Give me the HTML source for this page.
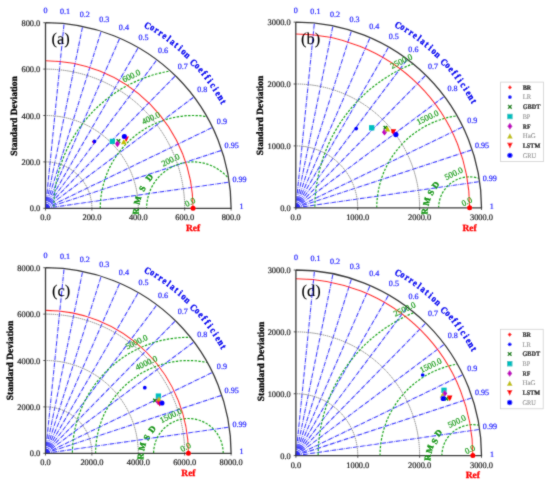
<!DOCTYPE html><html><head><meta charset="utf-8"><style>html,body{margin:0;padding:0;background:#fff;width:550px;height:481px;overflow:hidden}svg{display:block}</style></head><body>
<svg text-rendering="geometricPrecision" width="550" height="481" viewBox="0 0 550 481" font-family='"Liberation Serif", "Times New Roman", serif'>
<defs><filter id="bl" x="0" y="0" width="550" height="481" filterUnits="userSpaceOnUse"><feConvolveMatrix order="3" kernelMatrix="0.025 0.085 0.025 0.085 0.56 0.085 0.025 0.085 0.025" edgeMode="duplicate" preserveAlpha="false"/></filter></defs>
<rect width="550" height="481" fill="#fff"/><g filter="url(#bl)">
<defs><clipPath id="clipa"><path d="M45.5 208.3L231.1 208.3A185.6 185.6 0 0 0 45.5 22.700000000000017Z"/></clipPath></defs>
<g><line x1="45.5" y1="208.3" x2="64.06" y2="23.63" stroke="#2a2aff" stroke-width="1.1" stroke-dasharray="4.7 0.95 0.6 0.95" opacity="0.88"/><line x1="45.5" y1="208.3" x2="82.62" y2="26.45" stroke="#2a2aff" stroke-width="1.1" stroke-dasharray="4.7 0.95 0.6 0.95" opacity="0.88"/><line x1="45.5" y1="208.3" x2="101.18" y2="31.25" stroke="#2a2aff" stroke-width="1.1" stroke-dasharray="4.7 0.95 0.6 0.95" opacity="0.88"/><line x1="45.5" y1="208.3" x2="119.74" y2="38.19" stroke="#2a2aff" stroke-width="1.1" stroke-dasharray="4.7 0.95 0.6 0.95" opacity="0.88"/><line x1="45.5" y1="208.3" x2="138.30" y2="47.57" stroke="#2a2aff" stroke-width="1.1" stroke-dasharray="4.7 0.95 0.6 0.95" opacity="0.88"/><line x1="45.5" y1="208.3" x2="156.86" y2="59.82" stroke="#2a2aff" stroke-width="1.1" stroke-dasharray="4.7 0.95 0.6 0.95" opacity="0.88"/><line x1="45.5" y1="208.3" x2="175.42" y2="75.76" stroke="#2a2aff" stroke-width="1.1" stroke-dasharray="4.7 0.95 0.6 0.95" opacity="0.88"/><line x1="45.5" y1="208.3" x2="193.98" y2="96.94" stroke="#2a2aff" stroke-width="1.1" stroke-dasharray="4.7 0.95 0.6 0.95" opacity="0.88"/><line x1="45.5" y1="208.3" x2="212.54" y2="127.40" stroke="#2a2aff" stroke-width="1.1" stroke-dasharray="4.7 0.95 0.6 0.95" opacity="0.88"/><line x1="45.5" y1="208.3" x2="221.82" y2="150.35" stroke="#2a2aff" stroke-width="1.1" stroke-dasharray="4.7 0.95 0.6 0.95" opacity="0.88"/><line x1="45.5" y1="208.3" x2="229.24" y2="182.12" stroke="#2a2aff" stroke-width="1.1" stroke-dasharray="4.7 0.95 0.6 0.95" opacity="0.88"/><path d="M91.90 208.3A46.40 46.40 0 0 0 45.5 161.90" fill="none" stroke="#7c7c7c" stroke-width="0.95" stroke-dasharray="1.4 0.7"/><path d="M138.30 208.3A92.80 92.80 0 0 0 45.5 115.50" fill="none" stroke="#7c7c7c" stroke-width="0.95" stroke-dasharray="1.4 0.7"/><path d="M184.70 208.3A139.20 139.20 0 0 0 45.5 69.10" fill="none" stroke="#7c7c7c" stroke-width="0.95" stroke-dasharray="1.4 0.7"/><g clip-path="url(#clipa)"><path d="M239.45 208.3A46.40 46.40 0 0 0 146.65 208.3" fill="none" stroke="#1fa51f" stroke-width="1.2" stroke-dasharray="2.4 1.4"/><path d="M285.85 208.3A92.80 92.80 0 0 0 100.25 208.3" fill="none" stroke="#1fa51f" stroke-width="1.2" stroke-dasharray="2.4 1.4"/><path d="M332.25 208.3A139.20 139.20 0 0 0 53.85 208.3" fill="none" stroke="#1fa51f" stroke-width="1.2" stroke-dasharray="2.4 1.4"/></g><path d="M193.05 208.3A147.55 147.55 0 0 0 45.5 60.75" fill="none" stroke="#ff1a1a" stroke-width="1.05" opacity="0.9"/><path d="M45.5 22.700000000000017L45.5 208.3L231.1 208.3A185.6 185.6 0 0 0 45.5 22.700000000000017" fill="none" stroke="#3a3a3a" stroke-width="1.3"/><line x1="43.3" y1="208.30" x2="45.5" y2="208.30" stroke="#333" stroke-width="0.8"/><line x1="45.50" y1="208.3" x2="45.50" y2="210.5" stroke="#333" stroke-width="0.8"/><line x1="43.3" y1="161.90" x2="45.5" y2="161.90" stroke="#333" stroke-width="0.8"/><line x1="91.90" y1="208.3" x2="91.90" y2="210.5" stroke="#333" stroke-width="0.8"/><line x1="43.3" y1="115.50" x2="45.5" y2="115.50" stroke="#333" stroke-width="0.8"/><line x1="138.30" y1="208.3" x2="138.30" y2="210.5" stroke="#333" stroke-width="0.8"/><line x1="43.3" y1="69.10" x2="45.5" y2="69.10" stroke="#333" stroke-width="0.8"/><line x1="184.70" y1="208.3" x2="184.70" y2="210.5" stroke="#333" stroke-width="0.8"/><line x1="43.3" y1="22.70" x2="45.5" y2="22.70" stroke="#333" stroke-width="0.8"/><line x1="231.10" y1="208.3" x2="231.10" y2="210.5" stroke="#333" stroke-width="0.8"/><text x="40.30" y="211.30" font-size="8.4" text-anchor="end" fill="#1a1a1a" stroke="#1a1a1a" stroke-width="0.2">0.0</text><text x="45.50" y="220.30" font-size="8.4" text-anchor="middle" fill="#1a1a1a" stroke="#1a1a1a" stroke-width="0.2">0.0</text><text x="40.30" y="164.90" font-size="8.4" text-anchor="end" fill="#1a1a1a" stroke="#1a1a1a" stroke-width="0.2">200.0</text><text x="91.90" y="220.30" font-size="8.4" text-anchor="middle" fill="#1a1a1a" stroke="#1a1a1a" stroke-width="0.2">200.0</text><text x="40.30" y="118.50" font-size="8.4" text-anchor="end" fill="#1a1a1a" stroke="#1a1a1a" stroke-width="0.2">400.0</text><text x="138.30" y="220.30" font-size="8.4" text-anchor="middle" fill="#1a1a1a" stroke="#1a1a1a" stroke-width="0.2">400.0</text><text x="40.30" y="72.10" font-size="8.4" text-anchor="end" fill="#1a1a1a" stroke="#1a1a1a" stroke-width="0.2">600.0</text><text x="184.70" y="220.30" font-size="8.4" text-anchor="middle" fill="#1a1a1a" stroke="#1a1a1a" stroke-width="0.2">600.0</text><text x="40.30" y="25.70" font-size="8.4" text-anchor="end" fill="#1a1a1a" stroke="#1a1a1a" stroke-width="0.2">800.0</text><text x="231.10" y="220.30" font-size="8.4" text-anchor="middle" fill="#1a1a1a" stroke="#1a1a1a" stroke-width="0.2">800.0</text><text x="45.50" y="13.30" font-size="8.1" text-anchor="middle" fill="#2828ff" stroke="#2828ff" stroke-width="0.22">0</text><text x="65.10" y="14.28" font-size="8.1" text-anchor="middle" fill="#2828ff" stroke="#2828ff" stroke-width="0.22">0.1</text><text x="84.70" y="17.26" font-size="8.1" text-anchor="middle" fill="#2828ff" stroke="#2828ff" stroke-width="0.22">0.2</text><text x="104.30" y="22.33" font-size="8.1" text-anchor="middle" fill="#2828ff" stroke="#2828ff" stroke-width="0.22">0.3</text><text x="123.90" y="29.66" font-size="8.1" text-anchor="middle" fill="#2828ff" stroke="#2828ff" stroke-width="0.22">0.4</text><text x="143.50" y="39.56" font-size="8.1" text-anchor="middle" fill="#2828ff" stroke="#2828ff" stroke-width="0.22">0.5</text><text x="163.10" y="52.50" font-size="8.1" text-anchor="middle" fill="#2828ff" stroke="#2828ff" stroke-width="0.22">0.6</text><text x="182.70" y="69.33" font-size="8.1" text-anchor="middle" fill="#2828ff" stroke="#2828ff" stroke-width="0.22">0.7</text><text x="202.30" y="91.70" font-size="8.1" text-anchor="middle" fill="#2828ff" stroke="#2828ff" stroke-width="0.22">0.8</text><text x="221.90" y="123.87" font-size="8.1" text-anchor="middle" fill="#2828ff" stroke="#2828ff" stroke-width="0.22">0.9</text><text x="231.70" y="148.10" font-size="8.1" text-anchor="middle" fill="#2828ff" stroke="#2828ff" stroke-width="0.22">0.95</text><text x="239.54" y="181.65" font-size="8.1" text-anchor="middle" fill="#2828ff" stroke="#2828ff" stroke-width="0.22">0.99</text><text x="241.50" y="209.30" font-size="8.1" text-anchor="middle" fill="#2828ff" stroke="#2828ff" stroke-width="0.22">1</text><text transform="translate(147.83 25.49) rotate(29.24) scale(0.86 1)" y="3.3" font-size="9.6" font-weight="bold" text-anchor="middle" fill="#0000f0" stroke="#0000f0" stroke-width="0.35">C</text><text transform="translate(152.07 28.09) rotate(30.60) scale(0.86 1)" y="2.2" font-size="9.6" font-weight="bold" text-anchor="middle" fill="#0000f0" stroke="#0000f0" stroke-width="0.35">o</text><text transform="translate(156.23 30.78) rotate(31.95) scale(0.86 1)" y="2.2" font-size="9.6" font-weight="bold" text-anchor="middle" fill="#0000f0" stroke="#0000f0" stroke-width="0.35">r</text><text transform="translate(160.33 33.56) rotate(33.31) scale(0.86 1)" y="2.2" font-size="9.6" font-weight="bold" text-anchor="middle" fill="#0000f0" stroke="#0000f0" stroke-width="0.35">r</text><text transform="translate(164.36 36.44) rotate(34.67) scale(0.86 1)" y="2.2" font-size="9.6" font-weight="bold" text-anchor="middle" fill="#0000f0" stroke="#0000f0" stroke-width="0.35">e</text><text transform="translate(168.31 39.42) rotate(36.03) scale(0.86 1)" y="2.2" font-size="9.6" font-weight="bold" text-anchor="middle" fill="#0000f0" stroke="#0000f0" stroke-width="0.35">l</text><text transform="translate(172.20 42.48) rotate(37.38) scale(0.86 1)" y="2.2" font-size="9.6" font-weight="bold" text-anchor="middle" fill="#0000f0" stroke="#0000f0" stroke-width="0.35">a</text><text transform="translate(176.00 45.63) rotate(38.74) scale(0.86 1)" y="2.2" font-size="9.6" font-weight="bold" text-anchor="middle" fill="#0000f0" stroke="#0000f0" stroke-width="0.35">t</text><text transform="translate(179.73 48.87) rotate(40.10) scale(0.86 1)" y="2.2" font-size="9.6" font-weight="bold" text-anchor="middle" fill="#0000f0" stroke="#0000f0" stroke-width="0.35">i</text><text transform="translate(183.38 52.20) rotate(41.45) scale(0.86 1)" y="2.2" font-size="9.6" font-weight="bold" text-anchor="middle" fill="#0000f0" stroke="#0000f0" stroke-width="0.35">o</text><text transform="translate(186.94 55.61) rotate(42.81) scale(0.86 1)" y="2.2" font-size="9.6" font-weight="bold" text-anchor="middle" fill="#0000f0" stroke="#0000f0" stroke-width="0.35">n</text><text transform="translate(193.82 62.67) rotate(45.52) scale(0.86 1)" y="3.3" font-size="9.6" font-weight="bold" text-anchor="middle" fill="#0000f0" stroke="#0000f0" stroke-width="0.35">C</text><text transform="translate(197.13 66.32) rotate(46.88) scale(0.86 1)" y="2.2" font-size="9.6" font-weight="bold" text-anchor="middle" fill="#0000f0" stroke="#0000f0" stroke-width="0.35">o</text><text transform="translate(200.35 70.04) rotate(48.24) scale(0.86 1)" y="2.2" font-size="9.6" font-weight="bold" text-anchor="middle" fill="#0000f0" stroke="#0000f0" stroke-width="0.35">e</text><text transform="translate(203.47 73.83) rotate(49.59) scale(0.86 1)" y="2.2" font-size="9.6" font-weight="bold" text-anchor="middle" fill="#0000f0" stroke="#0000f0" stroke-width="0.35">f</text><text transform="translate(206.51 77.70) rotate(50.95) scale(0.86 1)" y="2.2" font-size="9.6" font-weight="bold" text-anchor="middle" fill="#0000f0" stroke="#0000f0" stroke-width="0.35">f</text><text transform="translate(209.45 81.63) rotate(52.31) scale(0.86 1)" y="2.2" font-size="9.6" font-weight="bold" text-anchor="middle" fill="#0000f0" stroke="#0000f0" stroke-width="0.35">i</text><text transform="translate(212.29 85.63) rotate(53.67) scale(0.86 1)" y="2.2" font-size="9.6" font-weight="bold" text-anchor="middle" fill="#0000f0" stroke="#0000f0" stroke-width="0.35">c</text><text transform="translate(215.04 89.69) rotate(55.02) scale(0.86 1)" y="2.2" font-size="9.6" font-weight="bold" text-anchor="middle" fill="#0000f0" stroke="#0000f0" stroke-width="0.35">i</text><text transform="translate(217.69 93.81) rotate(56.38) scale(0.86 1)" y="2.2" font-size="9.6" font-weight="bold" text-anchor="middle" fill="#0000f0" stroke="#0000f0" stroke-width="0.35">e</text><text transform="translate(220.23 98.00) rotate(57.74) scale(0.86 1)" y="2.2" font-size="9.6" font-weight="bold" text-anchor="middle" fill="#0000f0" stroke="#0000f0" stroke-width="0.35">n</text><text transform="translate(222.68 102.24) rotate(59.09) scale(0.86 1)" y="2.2" font-size="9.6" font-weight="bold" text-anchor="middle" fill="#0000f0" stroke="#0000f0" stroke-width="0.35">t</text><text transform="translate(190.09 201.96) rotate(-26)" y="2.9" font-size="8.5" text-anchor="middle" fill="#1a9a1a" stroke="#1a9a1a" stroke-width="0.22">0.0</text><text transform="translate(170.48 159.90) rotate(-26)" y="2.9" font-size="8.5" text-anchor="middle" fill="#1a9a1a" stroke="#1a9a1a" stroke-width="0.22">200.0</text><text transform="translate(150.87 117.85) rotate(-26)" y="2.9" font-size="8.5" text-anchor="middle" fill="#1a9a1a" stroke="#1a9a1a" stroke-width="0.22">400.0</text><text transform="translate(131.27 75.80) rotate(-26)" y="2.9" font-size="8.5" text-anchor="middle" fill="#1a9a1a" stroke="#1a9a1a" stroke-width="0.22">600.0</text><text transform="translate(135.90 211.30) rotate(-85)" y="3.0" font-size="8.8" font-weight="bold" text-anchor="middle" fill="#0a900a" stroke="#0a900a" stroke-width="0.3">R</text><text transform="translate(137.50 200.30) rotate(-75)" y="3.0" font-size="8.8" font-weight="bold" text-anchor="middle" fill="#0a900a" stroke="#0a900a" stroke-width="0.3">M</text><text transform="translate(142.20 188.40) rotate(-65)" y="3.0" font-size="8.8" font-weight="bold" text-anchor="middle" fill="#0a900a" stroke="#0a900a" stroke-width="0.3">S</text><text transform="translate(149.40 177.50) rotate(-52)" y="3.0" font-size="8.8" font-weight="bold" text-anchor="middle" fill="#0a900a" stroke="#0a900a" stroke-width="0.3">D</text><text transform="translate(14.00 116.00) rotate(-90)" y="3.2" font-size="9.5" font-weight="bold" text-anchor="middle" fill="#000" stroke="#000" stroke-width="0.3">Standard Deviation</text><text x="193.05" y="231.00" font-size="9.5" font-weight="bold" text-anchor="middle" fill="#ff0000" stroke="#ff0000" stroke-width="0.3">Ref</text><path d="M93.80 139.79L95.81 141.80L93.80 143.81L91.79 141.80Z" fill="#ff0000"/><circle cx="94.40" cy="141.40" r="1.85" fill="#0000ff"/><path d="M116.60 139.30L120.20 142.90M120.20 139.30L116.60 142.90" stroke="#008000" stroke-width="1.38" fill="none"/><rect x="109.75" y="138.75" width="5.30" height="5.30" fill="#00bfbf"/><path d="M117.40 140.41L119.94 143.80L117.40 147.19L114.86 143.80Z" fill="#bf00bf"/><path d="M123.80 139.06L126.56 144.14L121.04 144.14Z" fill="#bfbf00"/><path d="M123.34 136.54L128.86 136.54L126.10 142.26Z" fill="#ff0000"/><circle cx="124.40" cy="136.50" r="2.60" fill="#0000ff"/><circle cx="193.05" cy="208.3" r="2.5" fill="#ff0000"/><text x="51.5" y="44.3" font-size="16.5" fill="#000" stroke="#000" stroke-width="0.1">(a)</text></g>
<defs><clipPath id="clipb"><path d="M295.8 207.8L481.5 207.8A185.7 185.7 0 0 0 295.8 22.100000000000023Z"/></clipPath></defs>
<g><line x1="295.8" y1="207.8" x2="314.37" y2="23.03" stroke="#2a2aff" stroke-width="1.1" stroke-dasharray="4.7 0.95 0.6 0.95" opacity="0.88"/><line x1="295.8" y1="207.8" x2="332.94" y2="25.85" stroke="#2a2aff" stroke-width="1.1" stroke-dasharray="4.7 0.95 0.6 0.95" opacity="0.88"/><line x1="295.8" y1="207.8" x2="351.51" y2="30.65" stroke="#2a2aff" stroke-width="1.1" stroke-dasharray="4.7 0.95 0.6 0.95" opacity="0.88"/><line x1="295.8" y1="207.8" x2="370.08" y2="37.60" stroke="#2a2aff" stroke-width="1.1" stroke-dasharray="4.7 0.95 0.6 0.95" opacity="0.88"/><line x1="295.8" y1="207.8" x2="388.65" y2="46.98" stroke="#2a2aff" stroke-width="1.1" stroke-dasharray="4.7 0.95 0.6 0.95" opacity="0.88"/><line x1="295.8" y1="207.8" x2="407.22" y2="59.24" stroke="#2a2aff" stroke-width="1.1" stroke-dasharray="4.7 0.95 0.6 0.95" opacity="0.88"/><line x1="295.8" y1="207.8" x2="425.79" y2="75.18" stroke="#2a2aff" stroke-width="1.1" stroke-dasharray="4.7 0.95 0.6 0.95" opacity="0.88"/><line x1="295.8" y1="207.8" x2="444.36" y2="96.38" stroke="#2a2aff" stroke-width="1.1" stroke-dasharray="4.7 0.95 0.6 0.95" opacity="0.88"/><line x1="295.8" y1="207.8" x2="462.93" y2="126.86" stroke="#2a2aff" stroke-width="1.1" stroke-dasharray="4.7 0.95 0.6 0.95" opacity="0.88"/><line x1="295.8" y1="207.8" x2="472.22" y2="149.82" stroke="#2a2aff" stroke-width="1.1" stroke-dasharray="4.7 0.95 0.6 0.95" opacity="0.88"/><line x1="295.8" y1="207.8" x2="479.64" y2="181.60" stroke="#2a2aff" stroke-width="1.1" stroke-dasharray="4.7 0.95 0.6 0.95" opacity="0.88"/><path d="M357.70 207.8A61.90 61.90 0 0 0 295.8 145.90" fill="none" stroke="#7c7c7c" stroke-width="0.95" stroke-dasharray="1.4 0.7"/><path d="M419.60 207.8A123.80 123.80 0 0 0 295.8 84.00" fill="none" stroke="#7c7c7c" stroke-width="0.95" stroke-dasharray="1.4 0.7"/><g clip-path="url(#clipb)"><path d="M500.57 207.8A30.95 30.95 0 0 0 438.67 207.8" fill="none" stroke="#1fa51f" stroke-width="1.2" stroke-dasharray="2.4 1.4"/><path d="M562.47 207.8A92.85 92.85 0 0 0 376.77 207.8" fill="none" stroke="#1fa51f" stroke-width="1.2" stroke-dasharray="2.4 1.4"/><path d="M624.37 207.8A154.75 154.75 0 0 0 314.87 207.8" fill="none" stroke="#1fa51f" stroke-width="1.2" stroke-dasharray="2.4 1.4"/></g><path d="M469.62 207.8A173.82 173.82 0 0 0 295.8 33.98" fill="none" stroke="#ff1a1a" stroke-width="1.05" opacity="0.9"/><path d="M295.8 22.100000000000023L295.8 207.8L481.5 207.8A185.7 185.7 0 0 0 295.8 22.100000000000023" fill="none" stroke="#3a3a3a" stroke-width="1.3"/><line x1="293.6" y1="207.80" x2="295.8" y2="207.80" stroke="#333" stroke-width="0.8"/><line x1="295.80" y1="207.8" x2="295.80" y2="210.0" stroke="#333" stroke-width="0.8"/><line x1="293.6" y1="145.90" x2="295.8" y2="145.90" stroke="#333" stroke-width="0.8"/><line x1="357.70" y1="207.8" x2="357.70" y2="210.0" stroke="#333" stroke-width="0.8"/><line x1="293.6" y1="84.00" x2="295.8" y2="84.00" stroke="#333" stroke-width="0.8"/><line x1="419.60" y1="207.8" x2="419.60" y2="210.0" stroke="#333" stroke-width="0.8"/><line x1="293.6" y1="22.10" x2="295.8" y2="22.10" stroke="#333" stroke-width="0.8"/><line x1="481.50" y1="207.8" x2="481.50" y2="210.0" stroke="#333" stroke-width="0.8"/><text x="290.60" y="210.80" font-size="8.4" text-anchor="end" fill="#1a1a1a" stroke="#1a1a1a" stroke-width="0.2">0.0</text><text x="295.80" y="219.80" font-size="8.4" text-anchor="middle" fill="#1a1a1a" stroke="#1a1a1a" stroke-width="0.2">0.0</text><text x="290.60" y="148.90" font-size="8.4" text-anchor="end" fill="#1a1a1a" stroke="#1a1a1a" stroke-width="0.2">1000.0</text><text x="357.70" y="219.80" font-size="8.4" text-anchor="middle" fill="#1a1a1a" stroke="#1a1a1a" stroke-width="0.2">1000.0</text><text x="290.60" y="87.00" font-size="8.4" text-anchor="end" fill="#1a1a1a" stroke="#1a1a1a" stroke-width="0.2">2000.0</text><text x="419.60" y="219.80" font-size="8.4" text-anchor="middle" fill="#1a1a1a" stroke="#1a1a1a" stroke-width="0.2">2000.0</text><text x="290.60" y="25.10" font-size="8.4" text-anchor="end" fill="#1a1a1a" stroke="#1a1a1a" stroke-width="0.2">3000.0</text><text x="481.50" y="219.80" font-size="8.4" text-anchor="middle" fill="#1a1a1a" stroke="#1a1a1a" stroke-width="0.2">3000.0</text><text x="295.80" y="12.80" font-size="8.1" text-anchor="middle" fill="#2828ff" stroke="#2828ff" stroke-width="0.22">0</text><text x="315.40" y="13.78" font-size="8.1" text-anchor="middle" fill="#2828ff" stroke="#2828ff" stroke-width="0.22">0.1</text><text x="335.00" y="16.76" font-size="8.1" text-anchor="middle" fill="#2828ff" stroke="#2828ff" stroke-width="0.22">0.2</text><text x="354.60" y="21.83" font-size="8.1" text-anchor="middle" fill="#2828ff" stroke="#2828ff" stroke-width="0.22">0.3</text><text x="374.20" y="29.16" font-size="8.1" text-anchor="middle" fill="#2828ff" stroke="#2828ff" stroke-width="0.22">0.4</text><text x="393.80" y="39.06" font-size="8.1" text-anchor="middle" fill="#2828ff" stroke="#2828ff" stroke-width="0.22">0.5</text><text x="413.40" y="52.00" font-size="8.1" text-anchor="middle" fill="#2828ff" stroke="#2828ff" stroke-width="0.22">0.6</text><text x="433.00" y="68.83" font-size="8.1" text-anchor="middle" fill="#2828ff" stroke="#2828ff" stroke-width="0.22">0.7</text><text x="452.60" y="91.20" font-size="8.1" text-anchor="middle" fill="#2828ff" stroke="#2828ff" stroke-width="0.22">0.8</text><text x="472.20" y="123.37" font-size="8.1" text-anchor="middle" fill="#2828ff" stroke="#2828ff" stroke-width="0.22">0.9</text><text x="482.00" y="147.60" font-size="8.1" text-anchor="middle" fill="#2828ff" stroke="#2828ff" stroke-width="0.22">0.95</text><text x="489.84" y="181.15" font-size="8.1" text-anchor="middle" fill="#2828ff" stroke="#2828ff" stroke-width="0.22">0.99</text><text x="491.80" y="208.80" font-size="8.1" text-anchor="middle" fill="#2828ff" stroke="#2828ff" stroke-width="0.22">1</text><text transform="translate(398.13 24.99) rotate(29.24) scale(0.86 1)" y="3.3" font-size="9.6" font-weight="bold" text-anchor="middle" fill="#0000f0" stroke="#0000f0" stroke-width="0.35">C</text><text transform="translate(402.37 27.59) rotate(30.60) scale(0.86 1)" y="2.2" font-size="9.6" font-weight="bold" text-anchor="middle" fill="#0000f0" stroke="#0000f0" stroke-width="0.35">o</text><text transform="translate(406.53 30.28) rotate(31.95) scale(0.86 1)" y="2.2" font-size="9.6" font-weight="bold" text-anchor="middle" fill="#0000f0" stroke="#0000f0" stroke-width="0.35">r</text><text transform="translate(410.63 33.06) rotate(33.31) scale(0.86 1)" y="2.2" font-size="9.6" font-weight="bold" text-anchor="middle" fill="#0000f0" stroke="#0000f0" stroke-width="0.35">r</text><text transform="translate(414.66 35.94) rotate(34.67) scale(0.86 1)" y="2.2" font-size="9.6" font-weight="bold" text-anchor="middle" fill="#0000f0" stroke="#0000f0" stroke-width="0.35">e</text><text transform="translate(418.61 38.92) rotate(36.03) scale(0.86 1)" y="2.2" font-size="9.6" font-weight="bold" text-anchor="middle" fill="#0000f0" stroke="#0000f0" stroke-width="0.35">l</text><text transform="translate(422.50 41.98) rotate(37.38) scale(0.86 1)" y="2.2" font-size="9.6" font-weight="bold" text-anchor="middle" fill="#0000f0" stroke="#0000f0" stroke-width="0.35">a</text><text transform="translate(426.30 45.13) rotate(38.74) scale(0.86 1)" y="2.2" font-size="9.6" font-weight="bold" text-anchor="middle" fill="#0000f0" stroke="#0000f0" stroke-width="0.35">t</text><text transform="translate(430.03 48.37) rotate(40.10) scale(0.86 1)" y="2.2" font-size="9.6" font-weight="bold" text-anchor="middle" fill="#0000f0" stroke="#0000f0" stroke-width="0.35">i</text><text transform="translate(433.68 51.70) rotate(41.45) scale(0.86 1)" y="2.2" font-size="9.6" font-weight="bold" text-anchor="middle" fill="#0000f0" stroke="#0000f0" stroke-width="0.35">o</text><text transform="translate(437.24 55.11) rotate(42.81) scale(0.86 1)" y="2.2" font-size="9.6" font-weight="bold" text-anchor="middle" fill="#0000f0" stroke="#0000f0" stroke-width="0.35">n</text><text transform="translate(444.12 62.17) rotate(45.52) scale(0.86 1)" y="3.3" font-size="9.6" font-weight="bold" text-anchor="middle" fill="#0000f0" stroke="#0000f0" stroke-width="0.35">C</text><text transform="translate(447.43 65.82) rotate(46.88) scale(0.86 1)" y="2.2" font-size="9.6" font-weight="bold" text-anchor="middle" fill="#0000f0" stroke="#0000f0" stroke-width="0.35">o</text><text transform="translate(450.65 69.54) rotate(48.24) scale(0.86 1)" y="2.2" font-size="9.6" font-weight="bold" text-anchor="middle" fill="#0000f0" stroke="#0000f0" stroke-width="0.35">e</text><text transform="translate(453.77 73.33) rotate(49.59) scale(0.86 1)" y="2.2" font-size="9.6" font-weight="bold" text-anchor="middle" fill="#0000f0" stroke="#0000f0" stroke-width="0.35">f</text><text transform="translate(456.81 77.20) rotate(50.95) scale(0.86 1)" y="2.2" font-size="9.6" font-weight="bold" text-anchor="middle" fill="#0000f0" stroke="#0000f0" stroke-width="0.35">f</text><text transform="translate(459.75 81.13) rotate(52.31) scale(0.86 1)" y="2.2" font-size="9.6" font-weight="bold" text-anchor="middle" fill="#0000f0" stroke="#0000f0" stroke-width="0.35">i</text><text transform="translate(462.59 85.13) rotate(53.67) scale(0.86 1)" y="2.2" font-size="9.6" font-weight="bold" text-anchor="middle" fill="#0000f0" stroke="#0000f0" stroke-width="0.35">c</text><text transform="translate(465.34 89.19) rotate(55.02) scale(0.86 1)" y="2.2" font-size="9.6" font-weight="bold" text-anchor="middle" fill="#0000f0" stroke="#0000f0" stroke-width="0.35">i</text><text transform="translate(467.99 93.31) rotate(56.38) scale(0.86 1)" y="2.2" font-size="9.6" font-weight="bold" text-anchor="middle" fill="#0000f0" stroke="#0000f0" stroke-width="0.35">e</text><text transform="translate(470.53 97.50) rotate(57.74) scale(0.86 1)" y="2.2" font-size="9.6" font-weight="bold" text-anchor="middle" fill="#0000f0" stroke="#0000f0" stroke-width="0.35">n</text><text transform="translate(472.98 101.74) rotate(59.09) scale(0.86 1)" y="2.2" font-size="9.6" font-weight="bold" text-anchor="middle" fill="#0000f0" stroke="#0000f0" stroke-width="0.35">t</text><text transform="translate(466.66 201.46) rotate(-26)" y="2.9" font-size="8.5" text-anchor="middle" fill="#1a9a1a" stroke="#1a9a1a" stroke-width="0.22">0.0</text><text transform="translate(453.58 173.41) rotate(-26)" y="2.9" font-size="8.5" text-anchor="middle" fill="#1a9a1a" stroke="#1a9a1a" stroke-width="0.22">500.0</text><text transform="translate(427.42 117.31) rotate(-26)" y="2.9" font-size="8.5" text-anchor="middle" fill="#1a9a1a" stroke="#1a9a1a" stroke-width="0.22">1500.0</text><text transform="translate(401.26 61.20) rotate(-26)" y="2.9" font-size="8.5" text-anchor="middle" fill="#1a9a1a" stroke="#1a9a1a" stroke-width="0.22">2500.0</text><text transform="translate(424.60 211.30) rotate(-85)" y="3.0" font-size="8.8" font-weight="bold" text-anchor="middle" fill="#0a900a" stroke="#0a900a" stroke-width="0.3">R</text><text transform="translate(426.60 201.40) rotate(-75)" y="3.0" font-size="8.8" font-weight="bold" text-anchor="middle" fill="#0a900a" stroke="#0a900a" stroke-width="0.3">M</text><text transform="translate(430.80 192.50) rotate(-62)" y="3.0" font-size="8.8" font-weight="bold" text-anchor="middle" fill="#0a900a" stroke="#0a900a" stroke-width="0.3">S</text><text transform="translate(435.50 184.80) rotate(-52)" y="3.0" font-size="8.8" font-weight="bold" text-anchor="middle" fill="#0a900a" stroke="#0a900a" stroke-width="0.3">D</text><text transform="translate(259.90 115.50) rotate(-90)" y="3.2" font-size="9.5" font-weight="bold" text-anchor="middle" fill="#000" stroke="#000" stroke-width="0.3">Standard Deviation</text><text x="469.62" y="230.50" font-size="9.5" font-weight="bold" text-anchor="middle" fill="#ff0000" stroke="#ff0000" stroke-width="0.3">Ref</text><path d="M393.00 129.99L395.01 132.00L393.00 134.01L390.99 132.00Z" fill="#ff0000"/><circle cx="356.20" cy="128.60" r="1.85" fill="#0000ff"/><path d="M383.60 126.00L387.20 129.60M387.20 126.00L383.60 129.60" stroke="#008000" stroke-width="1.38" fill="none"/><rect x="369.05" y="125.15" width="5.30" height="5.30" fill="#00bfbf"/><path d="M384.50 128.81L387.04 132.20L384.50 135.59L381.96 132.20Z" fill="#bf00bf"/><path d="M387.50 126.36L390.26 131.44L384.74 131.44Z" fill="#bfbf00"/><path d="M390.64 129.34L396.16 129.34L393.40 135.06Z" fill="#ff0000"/><circle cx="395.90" cy="134.60" r="2.60" fill="#0000ff"/><circle cx="469.62" cy="207.8" r="2.5" fill="#ff0000"/><text x="301.0" y="44.3" font-size="16.5" fill="#000" stroke="#000" stroke-width="0.1">(b)</text><rect x="500.6" y="82.1" width="42.8" height="79.5" fill="#fff" stroke="#d0d0d0" stroke-width="0.8"/><path d="M509.90 85.35L511.95 87.40L509.90 89.45L507.85 87.40Z" fill="#ff0000"/><text x="522.70" y="89.70" font-size="7" font-weight="bold" fill="#000" stroke="#000" stroke-width="0.2" textLength="8.6" lengthAdjust="spacingAndGlyphs">BR</text><circle cx="509.90" cy="97.10" r="1.89" fill="#0000ff"/><text x="522.70" y="99.40" font-size="7" fill="#888" stroke="#888" stroke-width="0.1" textLength="8.4" lengthAdjust="spacingAndGlyphs">LR</text><path d="M508.06 104.96L511.74 108.64M511.74 104.96L508.06 108.64" stroke="#008000" stroke-width="1.40" fill="none"/><text x="522.70" y="109.10" font-size="7" font-weight="bold" fill="#000" stroke="#000" stroke-width="0.2" textLength="17.7" lengthAdjust="spacingAndGlyphs">GBDT</text><rect x="507.20" y="113.80" width="5.40" height="5.40" fill="#00bfbf"/><text x="522.70" y="118.80" font-size="7" fill="#888" stroke="#888" stroke-width="0.1" textLength="7.6" lengthAdjust="spacingAndGlyphs">BP</text><path d="M509.90 122.74L512.49 126.20L509.90 129.66L507.31 126.20Z" fill="#bf00bf"/><text x="522.70" y="128.50" font-size="7" font-weight="bold" fill="#000" stroke="#000" stroke-width="0.2" textLength="7.8" lengthAdjust="spacingAndGlyphs">RF</text><path d="M509.90 133.31L512.71 138.49L507.09 138.49Z" fill="#bfbf00"/><text x="522.70" y="138.20" font-size="7" fill="#888" stroke="#888" stroke-width="0.1" textLength="13.0" lengthAdjust="spacingAndGlyphs">HaG</text><path d="M507.09 142.68L512.71 142.68L509.90 148.52Z" fill="#ff0000"/><text x="522.70" y="147.90" font-size="7" font-weight="bold" fill="#000" stroke="#000" stroke-width="0.2" textLength="17.7" lengthAdjust="spacingAndGlyphs">LSTM</text><circle cx="509.90" cy="155.30" r="2.65" fill="#0000ff"/><text x="522.70" y="157.60" font-size="7" fill="#888" stroke="#888" stroke-width="0.1" textLength="13.4" lengthAdjust="spacingAndGlyphs">GRU</text></g>
<defs><clipPath id="clipc"><path d="M45.5 453.3L231.1 453.3A185.6 185.6 0 0 0 45.5 267.70000000000005Z"/></clipPath></defs>
<g><line x1="45.5" y1="453.3" x2="64.06" y2="268.63" stroke="#2a2aff" stroke-width="1.1" stroke-dasharray="4.7 0.95 0.6 0.95" opacity="0.88"/><line x1="45.5" y1="453.3" x2="82.62" y2="271.45" stroke="#2a2aff" stroke-width="1.1" stroke-dasharray="4.7 0.95 0.6 0.95" opacity="0.88"/><line x1="45.5" y1="453.3" x2="101.18" y2="276.25" stroke="#2a2aff" stroke-width="1.1" stroke-dasharray="4.7 0.95 0.6 0.95" opacity="0.88"/><line x1="45.5" y1="453.3" x2="119.74" y2="283.19" stroke="#2a2aff" stroke-width="1.1" stroke-dasharray="4.7 0.95 0.6 0.95" opacity="0.88"/><line x1="45.5" y1="453.3" x2="138.30" y2="292.57" stroke="#2a2aff" stroke-width="1.1" stroke-dasharray="4.7 0.95 0.6 0.95" opacity="0.88"/><line x1="45.5" y1="453.3" x2="156.86" y2="304.82" stroke="#2a2aff" stroke-width="1.1" stroke-dasharray="4.7 0.95 0.6 0.95" opacity="0.88"/><line x1="45.5" y1="453.3" x2="175.42" y2="320.76" stroke="#2a2aff" stroke-width="1.1" stroke-dasharray="4.7 0.95 0.6 0.95" opacity="0.88"/><line x1="45.5" y1="453.3" x2="193.98" y2="341.94" stroke="#2a2aff" stroke-width="1.1" stroke-dasharray="4.7 0.95 0.6 0.95" opacity="0.88"/><line x1="45.5" y1="453.3" x2="212.54" y2="372.40" stroke="#2a2aff" stroke-width="1.1" stroke-dasharray="4.7 0.95 0.6 0.95" opacity="0.88"/><line x1="45.5" y1="453.3" x2="221.82" y2="395.35" stroke="#2a2aff" stroke-width="1.1" stroke-dasharray="4.7 0.95 0.6 0.95" opacity="0.88"/><line x1="45.5" y1="453.3" x2="229.24" y2="427.12" stroke="#2a2aff" stroke-width="1.1" stroke-dasharray="4.7 0.95 0.6 0.95" opacity="0.88"/><path d="M91.90 453.3A46.40 46.40 0 0 0 45.5 406.90" fill="none" stroke="#7c7c7c" stroke-width="0.95" stroke-dasharray="1.4 0.7"/><path d="M138.30 453.3A92.80 92.80 0 0 0 45.5 360.50" fill="none" stroke="#7c7c7c" stroke-width="0.95" stroke-dasharray="1.4 0.7"/><path d="M184.70 453.3A139.20 139.20 0 0 0 45.5 314.10" fill="none" stroke="#7c7c7c" stroke-width="0.95" stroke-dasharray="1.4 0.7"/><g clip-path="url(#clipc)"><path d="M223.21 453.3A34.80 34.80 0 0 0 153.61 453.3" fill="none" stroke="#1fa51f" stroke-width="1.2" stroke-dasharray="2.4 1.4"/><path d="M281.21 453.3A92.80 92.80 0 0 0 95.61 453.3" fill="none" stroke="#1fa51f" stroke-width="1.2" stroke-dasharray="2.4 1.4"/><path d="M304.41 453.3A116.00 116.00 0 0 0 72.41 453.3" fill="none" stroke="#1fa51f" stroke-width="1.2" stroke-dasharray="2.4 1.4"/></g><path d="M188.41 453.3A142.91 142.91 0 0 0 45.5 310.39" fill="none" stroke="#ff1a1a" stroke-width="1.05" opacity="0.9"/><path d="M45.5 267.70000000000005L45.5 453.3L231.1 453.3A185.6 185.6 0 0 0 45.5 267.70000000000005" fill="none" stroke="#3a3a3a" stroke-width="1.3"/><line x1="43.3" y1="453.30" x2="45.5" y2="453.30" stroke="#333" stroke-width="0.8"/><line x1="45.50" y1="453.3" x2="45.50" y2="455.5" stroke="#333" stroke-width="0.8"/><line x1="43.3" y1="406.90" x2="45.5" y2="406.90" stroke="#333" stroke-width="0.8"/><line x1="91.90" y1="453.3" x2="91.90" y2="455.5" stroke="#333" stroke-width="0.8"/><line x1="43.3" y1="360.50" x2="45.5" y2="360.50" stroke="#333" stroke-width="0.8"/><line x1="138.30" y1="453.3" x2="138.30" y2="455.5" stroke="#333" stroke-width="0.8"/><line x1="43.3" y1="314.10" x2="45.5" y2="314.10" stroke="#333" stroke-width="0.8"/><line x1="184.70" y1="453.3" x2="184.70" y2="455.5" stroke="#333" stroke-width="0.8"/><line x1="43.3" y1="267.70" x2="45.5" y2="267.70" stroke="#333" stroke-width="0.8"/><line x1="231.10" y1="453.3" x2="231.10" y2="455.5" stroke="#333" stroke-width="0.8"/><text x="40.30" y="456.30" font-size="8.4" text-anchor="end" fill="#1a1a1a" stroke="#1a1a1a" stroke-width="0.2">0.0</text><text x="45.50" y="465.30" font-size="8.4" text-anchor="middle" fill="#1a1a1a" stroke="#1a1a1a" stroke-width="0.2">0.0</text><text x="40.30" y="409.90" font-size="8.4" text-anchor="end" fill="#1a1a1a" stroke="#1a1a1a" stroke-width="0.2">2000.0</text><text x="91.90" y="465.30" font-size="8.4" text-anchor="middle" fill="#1a1a1a" stroke="#1a1a1a" stroke-width="0.2">2000.0</text><text x="40.30" y="363.50" font-size="8.4" text-anchor="end" fill="#1a1a1a" stroke="#1a1a1a" stroke-width="0.2">4000.0</text><text x="138.30" y="465.30" font-size="8.4" text-anchor="middle" fill="#1a1a1a" stroke="#1a1a1a" stroke-width="0.2">4000.0</text><text x="40.30" y="317.10" font-size="8.4" text-anchor="end" fill="#1a1a1a" stroke="#1a1a1a" stroke-width="0.2">6000.0</text><text x="184.70" y="465.30" font-size="8.4" text-anchor="middle" fill="#1a1a1a" stroke="#1a1a1a" stroke-width="0.2">6000.0</text><text x="40.30" y="270.70" font-size="8.4" text-anchor="end" fill="#1a1a1a" stroke="#1a1a1a" stroke-width="0.2">8000.0</text><text x="231.10" y="465.30" font-size="8.4" text-anchor="middle" fill="#1a1a1a" stroke="#1a1a1a" stroke-width="0.2">8000.0</text><text x="45.50" y="258.30" font-size="8.1" text-anchor="middle" fill="#2828ff" stroke="#2828ff" stroke-width="0.22">0</text><text x="65.10" y="259.28" font-size="8.1" text-anchor="middle" fill="#2828ff" stroke="#2828ff" stroke-width="0.22">0.1</text><text x="84.70" y="262.26" font-size="8.1" text-anchor="middle" fill="#2828ff" stroke="#2828ff" stroke-width="0.22">0.2</text><text x="104.30" y="267.33" font-size="8.1" text-anchor="middle" fill="#2828ff" stroke="#2828ff" stroke-width="0.22">0.3</text><text x="123.90" y="274.66" font-size="8.1" text-anchor="middle" fill="#2828ff" stroke="#2828ff" stroke-width="0.22">0.4</text><text x="143.50" y="284.56" font-size="8.1" text-anchor="middle" fill="#2828ff" stroke="#2828ff" stroke-width="0.22">0.5</text><text x="163.10" y="297.50" font-size="8.1" text-anchor="middle" fill="#2828ff" stroke="#2828ff" stroke-width="0.22">0.6</text><text x="182.70" y="314.33" font-size="8.1" text-anchor="middle" fill="#2828ff" stroke="#2828ff" stroke-width="0.22">0.7</text><text x="202.30" y="336.70" font-size="8.1" text-anchor="middle" fill="#2828ff" stroke="#2828ff" stroke-width="0.22">0.8</text><text x="221.90" y="368.87" font-size="8.1" text-anchor="middle" fill="#2828ff" stroke="#2828ff" stroke-width="0.22">0.9</text><text x="231.70" y="393.10" font-size="8.1" text-anchor="middle" fill="#2828ff" stroke="#2828ff" stroke-width="0.22">0.95</text><text x="239.54" y="426.65" font-size="8.1" text-anchor="middle" fill="#2828ff" stroke="#2828ff" stroke-width="0.22">0.99</text><text x="241.50" y="454.30" font-size="8.1" text-anchor="middle" fill="#2828ff" stroke="#2828ff" stroke-width="0.22">1</text><text transform="translate(147.83 270.49) rotate(29.24) scale(0.86 1)" y="3.3" font-size="9.6" font-weight="bold" text-anchor="middle" fill="#0000f0" stroke="#0000f0" stroke-width="0.35">C</text><text transform="translate(152.07 273.09) rotate(30.60) scale(0.86 1)" y="2.2" font-size="9.6" font-weight="bold" text-anchor="middle" fill="#0000f0" stroke="#0000f0" stroke-width="0.35">o</text><text transform="translate(156.23 275.78) rotate(31.95) scale(0.86 1)" y="2.2" font-size="9.6" font-weight="bold" text-anchor="middle" fill="#0000f0" stroke="#0000f0" stroke-width="0.35">r</text><text transform="translate(160.33 278.56) rotate(33.31) scale(0.86 1)" y="2.2" font-size="9.6" font-weight="bold" text-anchor="middle" fill="#0000f0" stroke="#0000f0" stroke-width="0.35">r</text><text transform="translate(164.36 281.44) rotate(34.67) scale(0.86 1)" y="2.2" font-size="9.6" font-weight="bold" text-anchor="middle" fill="#0000f0" stroke="#0000f0" stroke-width="0.35">e</text><text transform="translate(168.31 284.42) rotate(36.03) scale(0.86 1)" y="2.2" font-size="9.6" font-weight="bold" text-anchor="middle" fill="#0000f0" stroke="#0000f0" stroke-width="0.35">l</text><text transform="translate(172.20 287.48) rotate(37.38) scale(0.86 1)" y="2.2" font-size="9.6" font-weight="bold" text-anchor="middle" fill="#0000f0" stroke="#0000f0" stroke-width="0.35">a</text><text transform="translate(176.00 290.63) rotate(38.74) scale(0.86 1)" y="2.2" font-size="9.6" font-weight="bold" text-anchor="middle" fill="#0000f0" stroke="#0000f0" stroke-width="0.35">t</text><text transform="translate(179.73 293.87) rotate(40.10) scale(0.86 1)" y="2.2" font-size="9.6" font-weight="bold" text-anchor="middle" fill="#0000f0" stroke="#0000f0" stroke-width="0.35">i</text><text transform="translate(183.38 297.20) rotate(41.45) scale(0.86 1)" y="2.2" font-size="9.6" font-weight="bold" text-anchor="middle" fill="#0000f0" stroke="#0000f0" stroke-width="0.35">o</text><text transform="translate(186.94 300.61) rotate(42.81) scale(0.86 1)" y="2.2" font-size="9.6" font-weight="bold" text-anchor="middle" fill="#0000f0" stroke="#0000f0" stroke-width="0.35">n</text><text transform="translate(193.82 307.67) rotate(45.52) scale(0.86 1)" y="3.3" font-size="9.6" font-weight="bold" text-anchor="middle" fill="#0000f0" stroke="#0000f0" stroke-width="0.35">C</text><text transform="translate(197.13 311.32) rotate(46.88) scale(0.86 1)" y="2.2" font-size="9.6" font-weight="bold" text-anchor="middle" fill="#0000f0" stroke="#0000f0" stroke-width="0.35">o</text><text transform="translate(200.35 315.04) rotate(48.24) scale(0.86 1)" y="2.2" font-size="9.6" font-weight="bold" text-anchor="middle" fill="#0000f0" stroke="#0000f0" stroke-width="0.35">e</text><text transform="translate(203.47 318.83) rotate(49.59) scale(0.86 1)" y="2.2" font-size="9.6" font-weight="bold" text-anchor="middle" fill="#0000f0" stroke="#0000f0" stroke-width="0.35">f</text><text transform="translate(206.51 322.70) rotate(50.95) scale(0.86 1)" y="2.2" font-size="9.6" font-weight="bold" text-anchor="middle" fill="#0000f0" stroke="#0000f0" stroke-width="0.35">f</text><text transform="translate(209.45 326.63) rotate(52.31) scale(0.86 1)" y="2.2" font-size="9.6" font-weight="bold" text-anchor="middle" fill="#0000f0" stroke="#0000f0" stroke-width="0.35">i</text><text transform="translate(212.29 330.63) rotate(53.67) scale(0.86 1)" y="2.2" font-size="9.6" font-weight="bold" text-anchor="middle" fill="#0000f0" stroke="#0000f0" stroke-width="0.35">c</text><text transform="translate(215.04 334.69) rotate(55.02) scale(0.86 1)" y="2.2" font-size="9.6" font-weight="bold" text-anchor="middle" fill="#0000f0" stroke="#0000f0" stroke-width="0.35">i</text><text transform="translate(217.69 338.81) rotate(56.38) scale(0.86 1)" y="2.2" font-size="9.6" font-weight="bold" text-anchor="middle" fill="#0000f0" stroke="#0000f0" stroke-width="0.35">e</text><text transform="translate(220.23 343.00) rotate(57.74) scale(0.86 1)" y="2.2" font-size="9.6" font-weight="bold" text-anchor="middle" fill="#0000f0" stroke="#0000f0" stroke-width="0.35">n</text><text transform="translate(222.68 347.24) rotate(59.09) scale(0.86 1)" y="2.2" font-size="9.6" font-weight="bold" text-anchor="middle" fill="#0000f0" stroke="#0000f0" stroke-width="0.35">t</text><text transform="translate(185.45 446.96) rotate(-26)" y="2.9" font-size="8.5" text-anchor="middle" fill="#1a9a1a" stroke="#1a9a1a" stroke-width="0.22">0.0</text><text transform="translate(170.75 415.42) rotate(-26)" y="2.9" font-size="8.5" text-anchor="middle" fill="#1a9a1a" stroke="#1a9a1a" stroke-width="0.22">1500.0</text><text transform="translate(146.23 362.85) rotate(-26)" y="2.9" font-size="8.5" text-anchor="middle" fill="#1a9a1a" stroke="#1a9a1a" stroke-width="0.22">4000.0</text><text transform="translate(136.43 341.82) rotate(-26)" y="2.9" font-size="8.5" text-anchor="middle" fill="#1a9a1a" stroke="#1a9a1a" stroke-width="0.22">5000.0</text><text transform="translate(140.60 456.30) rotate(-85)" y="3.0" font-size="8.8" font-weight="bold" text-anchor="middle" fill="#0a900a" stroke="#0a900a" stroke-width="0.3">R</text><text transform="translate(142.20 446.40) rotate(-75)" y="3.0" font-size="8.8" font-weight="bold" text-anchor="middle" fill="#0a900a" stroke="#0a900a" stroke-width="0.3">M</text><text transform="translate(146.80 437.50) rotate(-62)" y="3.0" font-size="8.8" font-weight="bold" text-anchor="middle" fill="#0a900a" stroke="#0a900a" stroke-width="0.3">S</text><text transform="translate(152.00 429.20) rotate(-52)" y="3.0" font-size="8.8" font-weight="bold" text-anchor="middle" fill="#0a900a" stroke="#0a900a" stroke-width="0.3">D</text><text transform="translate(9.90 360.50) rotate(-90)" y="3.2" font-size="9.5" font-weight="bold" text-anchor="middle" fill="#000" stroke="#000" stroke-width="0.3">Standard Deviation</text><text x="188.41" y="476.00" font-size="9.5" font-weight="bold" text-anchor="middle" fill="#ff0000" stroke="#ff0000" stroke-width="0.3">Ref</text><path d="M159.70 401.69L161.71 403.70L159.70 405.71L157.69 403.70Z" fill="#ff0000"/><circle cx="144.80" cy="387.70" r="1.85" fill="#0000ff"/><path d="M153.20 398.70L156.80 402.30M156.80 398.70L153.20 402.30" stroke="#008000" stroke-width="1.38" fill="none"/><rect x="155.75" y="393.45" width="5.30" height="5.30" fill="#00bfbf"/><path d="M158.00 398.11L160.54 401.50L158.00 404.89L155.46 401.50Z" fill="#bf00bf"/><path d="M159.00 396.46L161.76 401.54L156.24 401.54Z" fill="#bfbf00"/><path d="M156.94 400.84L162.46 400.84L159.70 406.56Z" fill="#ff0000"/><circle cx="161.90" cy="403.00" r="2.60" fill="#0000ff"/><circle cx="188.41" cy="453.3" r="2.5" fill="#ff0000"/><text x="51.9" y="295.8" font-size="16.5" fill="#000" stroke="#000" stroke-width="0.1">(c)</text></g>
<defs><clipPath id="clipd"><path d="M295.9 455.6L481.5 455.6A185.6 185.6 0 0 0 295.9 270.0Z"/></clipPath></defs>
<g><line x1="295.9" y1="455.6" x2="314.46" y2="270.93" stroke="#2a2aff" stroke-width="1.1" stroke-dasharray="4.7 0.95 0.6 0.95" opacity="0.88"/><line x1="295.9" y1="455.6" x2="333.02" y2="273.75" stroke="#2a2aff" stroke-width="1.1" stroke-dasharray="4.7 0.95 0.6 0.95" opacity="0.88"/><line x1="295.9" y1="455.6" x2="351.58" y2="278.55" stroke="#2a2aff" stroke-width="1.1" stroke-dasharray="4.7 0.95 0.6 0.95" opacity="0.88"/><line x1="295.9" y1="455.6" x2="370.14" y2="285.49" stroke="#2a2aff" stroke-width="1.1" stroke-dasharray="4.7 0.95 0.6 0.95" opacity="0.88"/><line x1="295.9" y1="455.6" x2="388.70" y2="294.87" stroke="#2a2aff" stroke-width="1.1" stroke-dasharray="4.7 0.95 0.6 0.95" opacity="0.88"/><line x1="295.9" y1="455.6" x2="407.26" y2="307.12" stroke="#2a2aff" stroke-width="1.1" stroke-dasharray="4.7 0.95 0.6 0.95" opacity="0.88"/><line x1="295.9" y1="455.6" x2="425.82" y2="323.06" stroke="#2a2aff" stroke-width="1.1" stroke-dasharray="4.7 0.95 0.6 0.95" opacity="0.88"/><line x1="295.9" y1="455.6" x2="444.38" y2="344.24" stroke="#2a2aff" stroke-width="1.1" stroke-dasharray="4.7 0.95 0.6 0.95" opacity="0.88"/><line x1="295.9" y1="455.6" x2="462.94" y2="374.70" stroke="#2a2aff" stroke-width="1.1" stroke-dasharray="4.7 0.95 0.6 0.95" opacity="0.88"/><line x1="295.9" y1="455.6" x2="472.22" y2="397.65" stroke="#2a2aff" stroke-width="1.1" stroke-dasharray="4.7 0.95 0.6 0.95" opacity="0.88"/><line x1="295.9" y1="455.6" x2="479.64" y2="429.42" stroke="#2a2aff" stroke-width="1.1" stroke-dasharray="4.7 0.95 0.6 0.95" opacity="0.88"/><path d="M357.77 455.6A61.87 61.87 0 0 0 295.9 393.73" fill="none" stroke="#7c7c7c" stroke-width="0.95" stroke-dasharray="1.4 0.7"/><path d="M419.63 455.6A123.73 123.73 0 0 0 295.9 331.87" fill="none" stroke="#7c7c7c" stroke-width="0.95" stroke-dasharray="1.4 0.7"/><g clip-path="url(#clipd)"><path d="M503.77 455.6A30.93 30.93 0 0 0 441.91 455.6" fill="none" stroke="#1fa51f" stroke-width="1.2" stroke-dasharray="2.4 1.4"/><path d="M565.64 455.6A92.80 92.80 0 0 0 380.04 455.6" fill="none" stroke="#1fa51f" stroke-width="1.2" stroke-dasharray="2.4 1.4"/><path d="M627.51 455.6A154.67 154.67 0 0 0 318.17 455.6" fill="none" stroke="#1fa51f" stroke-width="1.2" stroke-dasharray="2.4 1.4"/></g><path d="M472.84 455.6A176.94 176.94 0 0 0 295.9 278.66" fill="none" stroke="#ff1a1a" stroke-width="1.05" opacity="0.9"/><path d="M295.9 270.0L295.9 455.6L481.5 455.6A185.6 185.6 0 0 0 295.9 270.0" fill="none" stroke="#3a3a3a" stroke-width="1.3"/><line x1="293.7" y1="455.60" x2="295.9" y2="455.60" stroke="#333" stroke-width="0.8"/><line x1="295.90" y1="455.6" x2="295.90" y2="457.8" stroke="#333" stroke-width="0.8"/><line x1="293.7" y1="393.73" x2="295.9" y2="393.73" stroke="#333" stroke-width="0.8"/><line x1="357.77" y1="455.6" x2="357.77" y2="457.8" stroke="#333" stroke-width="0.8"/><line x1="293.7" y1="331.87" x2="295.9" y2="331.87" stroke="#333" stroke-width="0.8"/><line x1="419.63" y1="455.6" x2="419.63" y2="457.8" stroke="#333" stroke-width="0.8"/><line x1="293.7" y1="270.00" x2="295.9" y2="270.00" stroke="#333" stroke-width="0.8"/><line x1="481.50" y1="455.6" x2="481.50" y2="457.8" stroke="#333" stroke-width="0.8"/><text x="290.70" y="458.60" font-size="8.4" text-anchor="end" fill="#1a1a1a" stroke="#1a1a1a" stroke-width="0.2">0.0</text><text x="295.90" y="467.60" font-size="8.4" text-anchor="middle" fill="#1a1a1a" stroke="#1a1a1a" stroke-width="0.2">0.0</text><text x="290.70" y="396.73" font-size="8.4" text-anchor="end" fill="#1a1a1a" stroke="#1a1a1a" stroke-width="0.2">1000.0</text><text x="357.77" y="467.60" font-size="8.4" text-anchor="middle" fill="#1a1a1a" stroke="#1a1a1a" stroke-width="0.2">1000.0</text><text x="290.70" y="334.87" font-size="8.4" text-anchor="end" fill="#1a1a1a" stroke="#1a1a1a" stroke-width="0.2">2000.0</text><text x="419.63" y="467.60" font-size="8.4" text-anchor="middle" fill="#1a1a1a" stroke="#1a1a1a" stroke-width="0.2">2000.0</text><text x="290.70" y="273.00" font-size="8.4" text-anchor="end" fill="#1a1a1a" stroke="#1a1a1a" stroke-width="0.2">3000.0</text><text x="481.50" y="467.60" font-size="8.4" text-anchor="middle" fill="#1a1a1a" stroke="#1a1a1a" stroke-width="0.2">3000.0</text><text x="295.90" y="259.60" font-size="8.1" text-anchor="middle" fill="#2828ff" stroke="#2828ff" stroke-width="0.22">0</text><text x="315.50" y="260.59" font-size="8.1" text-anchor="middle" fill="#2828ff" stroke="#2828ff" stroke-width="0.22">0.1</text><text x="335.10" y="263.58" font-size="8.1" text-anchor="middle" fill="#2828ff" stroke="#2828ff" stroke-width="0.22">0.2</text><text x="354.70" y="268.67" font-size="8.1" text-anchor="middle" fill="#2828ff" stroke="#2828ff" stroke-width="0.22">0.3</text><text x="374.30" y="276.05" font-size="8.1" text-anchor="middle" fill="#2828ff" stroke="#2828ff" stroke-width="0.22">0.4</text><text x="393.90" y="285.99" font-size="8.1" text-anchor="middle" fill="#2828ff" stroke="#2828ff" stroke-width="0.22">0.5</text><text x="413.50" y="299.00" font-size="8.1" text-anchor="middle" fill="#2828ff" stroke="#2828ff" stroke-width="0.22">0.6</text><text x="433.10" y="315.91" font-size="8.1" text-anchor="middle" fill="#2828ff" stroke="#2828ff" stroke-width="0.22">0.7</text><text x="452.70" y="338.40" font-size="8.1" text-anchor="middle" fill="#2828ff" stroke="#2828ff" stroke-width="0.22">0.8</text><text x="472.30" y="370.73" font-size="8.1" text-anchor="middle" fill="#2828ff" stroke="#2828ff" stroke-width="0.22">0.9</text><text x="482.10" y="395.09" font-size="8.1" text-anchor="middle" fill="#2828ff" stroke="#2828ff" stroke-width="0.22">0.95</text><text x="489.94" y="428.81" font-size="8.1" text-anchor="middle" fill="#2828ff" stroke="#2828ff" stroke-width="0.22">0.99</text><text x="491.90" y="456.60" font-size="8.1" text-anchor="middle" fill="#2828ff" stroke="#2828ff" stroke-width="0.22">1</text><text transform="translate(398.23 272.79) rotate(29.24) scale(0.86 1)" y="3.3" font-size="9.6" font-weight="bold" text-anchor="middle" fill="#0000f0" stroke="#0000f0" stroke-width="0.35">C</text><text transform="translate(402.47 275.39) rotate(30.60) scale(0.86 1)" y="2.2" font-size="9.6" font-weight="bold" text-anchor="middle" fill="#0000f0" stroke="#0000f0" stroke-width="0.35">o</text><text transform="translate(406.63 278.08) rotate(31.95) scale(0.86 1)" y="2.2" font-size="9.6" font-weight="bold" text-anchor="middle" fill="#0000f0" stroke="#0000f0" stroke-width="0.35">r</text><text transform="translate(410.73 280.86) rotate(33.31) scale(0.86 1)" y="2.2" font-size="9.6" font-weight="bold" text-anchor="middle" fill="#0000f0" stroke="#0000f0" stroke-width="0.35">r</text><text transform="translate(414.76 283.74) rotate(34.67) scale(0.86 1)" y="2.2" font-size="9.6" font-weight="bold" text-anchor="middle" fill="#0000f0" stroke="#0000f0" stroke-width="0.35">e</text><text transform="translate(418.71 286.72) rotate(36.03) scale(0.86 1)" y="2.2" font-size="9.6" font-weight="bold" text-anchor="middle" fill="#0000f0" stroke="#0000f0" stroke-width="0.35">l</text><text transform="translate(422.60 289.78) rotate(37.38) scale(0.86 1)" y="2.2" font-size="9.6" font-weight="bold" text-anchor="middle" fill="#0000f0" stroke="#0000f0" stroke-width="0.35">a</text><text transform="translate(426.40 292.93) rotate(38.74) scale(0.86 1)" y="2.2" font-size="9.6" font-weight="bold" text-anchor="middle" fill="#0000f0" stroke="#0000f0" stroke-width="0.35">t</text><text transform="translate(430.13 296.17) rotate(40.10) scale(0.86 1)" y="2.2" font-size="9.6" font-weight="bold" text-anchor="middle" fill="#0000f0" stroke="#0000f0" stroke-width="0.35">i</text><text transform="translate(433.78 299.50) rotate(41.45) scale(0.86 1)" y="2.2" font-size="9.6" font-weight="bold" text-anchor="middle" fill="#0000f0" stroke="#0000f0" stroke-width="0.35">o</text><text transform="translate(437.34 302.91) rotate(42.81) scale(0.86 1)" y="2.2" font-size="9.6" font-weight="bold" text-anchor="middle" fill="#0000f0" stroke="#0000f0" stroke-width="0.35">n</text><text transform="translate(444.22 309.97) rotate(45.52) scale(0.86 1)" y="3.3" font-size="9.6" font-weight="bold" text-anchor="middle" fill="#0000f0" stroke="#0000f0" stroke-width="0.35">C</text><text transform="translate(447.53 313.62) rotate(46.88) scale(0.86 1)" y="2.2" font-size="9.6" font-weight="bold" text-anchor="middle" fill="#0000f0" stroke="#0000f0" stroke-width="0.35">o</text><text transform="translate(450.75 317.34) rotate(48.24) scale(0.86 1)" y="2.2" font-size="9.6" font-weight="bold" text-anchor="middle" fill="#0000f0" stroke="#0000f0" stroke-width="0.35">e</text><text transform="translate(453.87 321.13) rotate(49.59) scale(0.86 1)" y="2.2" font-size="9.6" font-weight="bold" text-anchor="middle" fill="#0000f0" stroke="#0000f0" stroke-width="0.35">f</text><text transform="translate(456.91 325.00) rotate(50.95) scale(0.86 1)" y="2.2" font-size="9.6" font-weight="bold" text-anchor="middle" fill="#0000f0" stroke="#0000f0" stroke-width="0.35">f</text><text transform="translate(459.85 328.93) rotate(52.31) scale(0.86 1)" y="2.2" font-size="9.6" font-weight="bold" text-anchor="middle" fill="#0000f0" stroke="#0000f0" stroke-width="0.35">i</text><text transform="translate(462.69 332.93) rotate(53.67) scale(0.86 1)" y="2.2" font-size="9.6" font-weight="bold" text-anchor="middle" fill="#0000f0" stroke="#0000f0" stroke-width="0.35">c</text><text transform="translate(465.44 336.99) rotate(55.02) scale(0.86 1)" y="2.2" font-size="9.6" font-weight="bold" text-anchor="middle" fill="#0000f0" stroke="#0000f0" stroke-width="0.35">i</text><text transform="translate(468.09 341.11) rotate(56.38) scale(0.86 1)" y="2.2" font-size="9.6" font-weight="bold" text-anchor="middle" fill="#0000f0" stroke="#0000f0" stroke-width="0.35">e</text><text transform="translate(470.63 345.30) rotate(57.74) scale(0.86 1)" y="2.2" font-size="9.6" font-weight="bold" text-anchor="middle" fill="#0000f0" stroke="#0000f0" stroke-width="0.35">n</text><text transform="translate(473.08 349.54) rotate(59.09) scale(0.86 1)" y="2.2" font-size="9.6" font-weight="bold" text-anchor="middle" fill="#0000f0" stroke="#0000f0" stroke-width="0.35">t</text><text transform="translate(469.88 449.26) rotate(-26)" y="2.9" font-size="8.5" text-anchor="middle" fill="#1a9a1a" stroke="#1a9a1a" stroke-width="0.22">0.0</text><text transform="translate(456.81 421.22) rotate(-26)" y="2.9" font-size="8.5" text-anchor="middle" fill="#1a9a1a" stroke="#1a9a1a" stroke-width="0.22">500.0</text><text transform="translate(430.66 365.15) rotate(-26)" y="2.9" font-size="8.5" text-anchor="middle" fill="#1a9a1a" stroke="#1a9a1a" stroke-width="0.22">1500.0</text><text transform="translate(404.52 309.08) rotate(-26)" y="2.9" font-size="8.5" text-anchor="middle" fill="#1a9a1a" stroke="#1a9a1a" stroke-width="0.22">2500.0</text><text transform="translate(427.50 457.60) rotate(-85)" y="3.0" font-size="8.8" font-weight="bold" text-anchor="middle" fill="#0a900a" stroke="#0a900a" stroke-width="0.3">R</text><text transform="translate(429.60 449.00) rotate(-75)" y="3.0" font-size="8.8" font-weight="bold" text-anchor="middle" fill="#0a900a" stroke="#0a900a" stroke-width="0.3">M</text><text transform="translate(434.80 441.20) rotate(-62)" y="3.0" font-size="8.8" font-weight="bold" text-anchor="middle" fill="#0a900a" stroke="#0a900a" stroke-width="0.3">S</text><text transform="translate(438.40 432.90) rotate(-52)" y="3.0" font-size="8.8" font-weight="bold" text-anchor="middle" fill="#0a900a" stroke="#0a900a" stroke-width="0.3">D</text><text transform="translate(260.80 361.50) rotate(-90)" y="3.2" font-size="9.5" font-weight="bold" text-anchor="middle" fill="#000" stroke="#000" stroke-width="0.3">Standard Deviation</text><text x="472.84" y="478.30" font-size="9.5" font-weight="bold" text-anchor="middle" fill="#ff0000" stroke="#ff0000" stroke-width="0.3">Ref</text><path d="M449.50 396.19L451.51 398.20L449.50 400.21L447.49 398.20Z" fill="#ff0000"/><circle cx="422.70" cy="375.00" r="1.85" fill="#0000ff"/><path d="M444.70 396.90L448.30 400.50M448.30 396.90L444.70 400.50" stroke="#008000" stroke-width="1.38" fill="none"/><rect x="441.35" y="387.65" width="5.30" height="5.30" fill="#00bfbf"/><path d="M444.70 390.01L447.24 393.40L444.70 396.79L442.16 393.40Z" fill="#bf00bf"/><path d="M442.50 392.76L445.26 397.84L439.74 397.84Z" fill="#bfbf00"/><path d="M446.94 395.54L452.46 395.54L449.70 401.26Z" fill="#ff0000"/><circle cx="443.20" cy="398.40" r="2.60" fill="#0000ff"/><circle cx="472.84" cy="455.6" r="2.5" fill="#ff0000"/><text x="301.5" y="296.0" font-size="16.5" fill="#000" stroke="#000" stroke-width="0.1">(d)</text><rect x="500.4" y="329.3" width="42.8" height="79.5" fill="#fff" stroke="#d0d0d0" stroke-width="0.8"/><path d="M509.70 332.55L511.75 334.60L509.70 336.65L507.65 334.60Z" fill="#ff0000"/><text x="522.50" y="336.90" font-size="7" font-weight="bold" fill="#000" stroke="#000" stroke-width="0.2" textLength="8.6" lengthAdjust="spacingAndGlyphs">BR</text><circle cx="509.70" cy="344.30" r="1.89" fill="#0000ff"/><text x="522.50" y="346.60" font-size="7" fill="#888" stroke="#888" stroke-width="0.1" textLength="8.4" lengthAdjust="spacingAndGlyphs">LR</text><path d="M507.86 352.16L511.54 355.84M511.54 352.16L507.86 355.84" stroke="#008000" stroke-width="1.40" fill="none"/><text x="522.50" y="356.30" font-size="7" font-weight="bold" fill="#000" stroke="#000" stroke-width="0.2" textLength="17.7" lengthAdjust="spacingAndGlyphs">GBDT</text><rect x="507.00" y="361.00" width="5.40" height="5.40" fill="#00bfbf"/><text x="522.50" y="366.00" font-size="7" fill="#888" stroke="#888" stroke-width="0.1" textLength="7.6" lengthAdjust="spacingAndGlyphs">BP</text><path d="M509.70 369.94L512.29 373.40L509.70 376.86L507.11 373.40Z" fill="#bf00bf"/><text x="522.50" y="375.70" font-size="7" font-weight="bold" fill="#000" stroke="#000" stroke-width="0.2" textLength="7.8" lengthAdjust="spacingAndGlyphs">RF</text><path d="M509.70 380.51L512.51 385.69L506.89 385.69Z" fill="#bfbf00"/><text x="522.50" y="385.40" font-size="7" fill="#888" stroke="#888" stroke-width="0.1" textLength="13.0" lengthAdjust="spacingAndGlyphs">HaG</text><path d="M506.89 389.88L512.51 389.88L509.70 395.72Z" fill="#ff0000"/><text x="522.50" y="395.10" font-size="7" font-weight="bold" fill="#000" stroke="#000" stroke-width="0.2" textLength="17.7" lengthAdjust="spacingAndGlyphs">LSTM</text><circle cx="509.70" cy="402.50" r="2.65" fill="#0000ff"/><text x="522.50" y="404.80" font-size="7" fill="#888" stroke="#888" stroke-width="0.1" textLength="13.4" lengthAdjust="spacingAndGlyphs">GRU</text></g>
</g></svg></body></html>
